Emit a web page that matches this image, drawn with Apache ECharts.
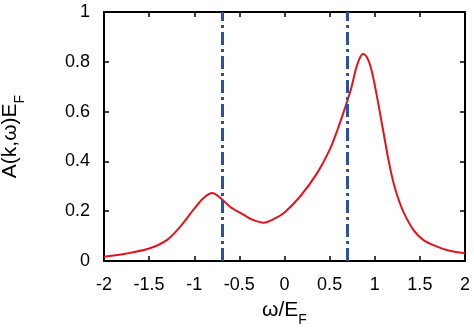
<!DOCTYPE html>
<html>
<head>
<meta charset="utf-8">
<script src="https://cdn.jsdelivr.net/npm/echarts@6/dist/echarts.min.js"></script>
<style>
  html, body { margin: 0; padding: 0; background: #fff; }
  #chart { width: 474px; height: 332px; }
</style>
</head>
<body>
<div id="chart"></div>
<script>
// Spectral function A(k, ω) versus ω / E_F
const omega = [-2, -1.75, -1.5, -1.3, -1.15, -1.0, -0.9, -0.8, -0.7, -0.6, -0.45, -0.35, -0.23, -0.1, 0.0, 0.17, 0.36, 0.5, 0.59, 0.68, 0.74, 0.79, 0.83, 0.87, 0.91, 0.95, 0.99, 1.03, 1.07, 1.11, 1.15, 1.2, 1.25, 1.32, 1.43, 1.54, 1.69, 1.83, 2.0];
const spectral = [0.017, 0.03, 0.05, 0.085, 0.14, 0.21, 0.252, 0.273, 0.25, 0.217, 0.185, 0.165, 0.154, 0.172, 0.195, 0.258, 0.352, 0.446, 0.53, 0.625, 0.695, 0.77, 0.812, 0.831, 0.82, 0.785, 0.725, 0.65, 0.57, 0.49, 0.41, 0.325, 0.262, 0.195, 0.124, 0.084, 0.058, 0.041, 0.031];
// Positions of the two dash-dot reference lines
const markers = [-0.685, 0.685];
// Tick values
const xTicks = [-2, -1.5, -1, -0.5, 0, 0.5, 1, 1.5, 2];
const yTicks = [0, 0.2, 0.4, 0.6, 0.8, 1];

const FONT = 'Liberation Sans';
const labelStyle = { color: '#000', fontSize: 18, fontFamily: FONT };
const tick = { show: true, inside: true, length: 5, lineStyle: { color: '#000', width: 1.5 } };
const line = { show: true, onZero: false, lineStyle: { color: '#000', width: 2 } };
const nameRich = {
  m: { fontSize: 21, fontFamily: FONT, color: '#000' },
  s: { fontSize: 14, fontFamily: FONT, color: '#000', verticalAlign: 'bottom', padding: [0, 0, -6, 0] }
};

const chart = echarts.init(document.getElementById('chart'), null, { renderer: 'canvas' });
chart.setOption({
  animation: false,
  backgroundColor: '#fff',
  grid: { left: 104, right: 9, top: 12, bottom: 71, containLabel: false, outerBoundsMode: 'none' },
  xAxis: [
    {
      type: 'value', min: xTicks[0], max: xTicks[xTicks.length - 1], interval: 0.5,
      position: 'bottom',
      axisLine: line, axisTick: tick, splitLine: { show: false },
      axisLabel: Object.assign({ margin: 15, formatter: v => String(v) }, labelStyle),
      name: '{m|ω/E}{s|F}', nameLocation: 'middle', nameGap: 39,
      nameTextStyle: { rich: nameRich }
    },
    {
      type: 'value', min: xTicks[0], max: xTicks[xTicks.length - 1], interval: 0.5,
      position: 'top',
      axisLine: line, axisTick: tick, splitLine: { show: false },
      axisLabel: { show: false }
    }
  ],
  yAxis: [
    {
      type: 'value', min: yTicks[0], max: yTicks[yTicks.length - 1], interval: 0.2,
      position: 'left',
      axisLine: line, axisTick: tick, splitLine: { show: false },
      axisLabel: Object.assign({ margin: 14, formatter: v => String(+v.toFixed(1)) }, labelStyle),
      name: '{m|A(k,ω)E}{s|F}', nameLocation: 'middle', nameGap: 83,
      nameTextStyle: { rich: nameRich }
    },
    {
      type: 'value', min: yTicks[0], max: yTicks[yTicks.length - 1], interval: 0.2,
      position: 'right',
      axisLine: line, axisTick: tick, splitLine: { show: false },
      axisLabel: { show: false }
    }
  ],
  series: [
    {
      type: 'line',
      data: omega.map((w, i) => [w, spectral[i]]),
      smooth: 0.3,
      showSymbol: false,
      lineStyle: { color: '#e3121b', width: 2 },
      markLine: {
        silent: true,
        symbol: 'none',
        label: { show: false },
        lineStyle: { color: '#2e4fa6', width: 3, type: [13, 4, 3, 4] },
        data: markers.map(v => ({ xAxis: v }))
      },
      z: 3
    }
  ]
});
</script>
</body>
</html>
